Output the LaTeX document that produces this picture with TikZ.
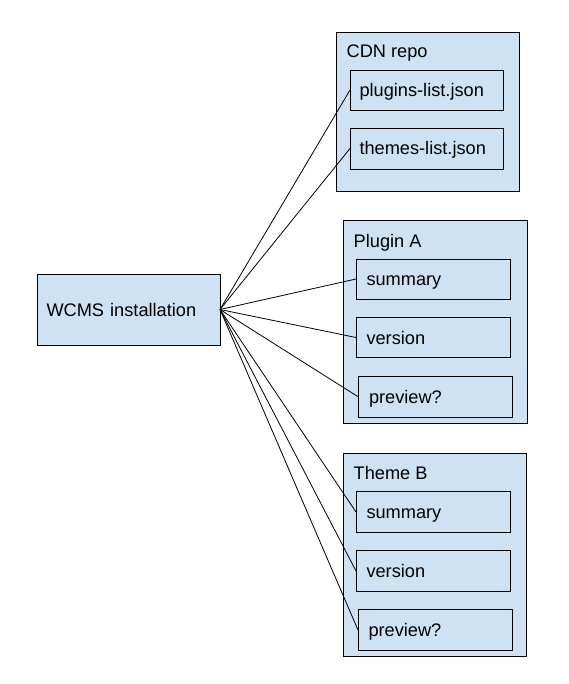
\documentclass[tikz,border=0pt]{standalone}
\usepackage{fontspec}
\setmainfont{Liberation Sans}
\definecolor{boxfill}{HTML}{CFE2F3}
\begin{document}
\begin{tikzpicture}[x=1pt,y=-1pt,
  box/.style={draw=black,fill=boxfill,line width=0.9pt,rectangle,anchor=north west,inner sep=0pt,outer sep=0pt},
  item/.style={box,font=\fontsize{18.2}{20}\selectfont,text height=15pt,text depth=2pt,align=left},
  title/.style={anchor=base west,inner sep=0pt,font=\fontsize{18.2}{20}\selectfont},
  conn/.style={draw=black,line width=0.8pt}]
\useasboundingbox (0,0) rectangle (569,684);
% WCMS
\node[item,minimum width=183pt,minimum height=71pt,text width=164pt] (w) at (37,274) {WCMS installation};
% CDN repo
\node[box,minimum width=183pt,minimum height=159pt] (cdn) at (336,32) {};
\node[title] (cdnt) at (346.5,58) {CDN repo};
\node[item,minimum width=153pt,minimum height=40pt,text width=134pt] (pl) at (350,70) {plugins-list.json};
\node[item,minimum width=153pt,minimum height=41pt,text width=134pt] (tl) at (350,128) {themes-list.json};
% Plugin A
\node[box,minimum width=184pt,minimum height=203pt] (pa) at (343,220) {};
\node[title] (pat) at (353.5,247.5) {Plugin A};
\node[item,minimum width=154pt,minimum height=40pt,text width=133pt] (pas) at (356,259) {summary};
\node[item,minimum width=154pt,minimum height=40pt,text width=133pt] (pav) at (356,317.5) {version};
\node[item,minimum width=154pt,minimum height=41pt,text width=133pt] (pap) at (358.5,376.5) {preview?};
% Theme B
\node[box,minimum width=183pt,minimum height=203pt] (tb) at (343,453.5) {};
\node[title] (tbt) at (353.5,479.5) {Theme B};
\node[item,minimum width=154pt,minimum height=41pt,text width=133pt] (tbs) at (356,491.5) {summary};
\node[item,minimum width=154pt,minimum height=41pt,text width=133pt] (tbv) at (356,550.5) {version};
\node[item,minimum width=154pt,minimum height=41pt,text width=133pt] (tbp) at (358,609.5) {preview?};
% connectors
\foreach \t in {pl,tl,pas,pav,pap,tbs,tbv,tbp}
  \draw[conn] (w.east) -- (\t.west);
\end{tikzpicture}
\end{document}
